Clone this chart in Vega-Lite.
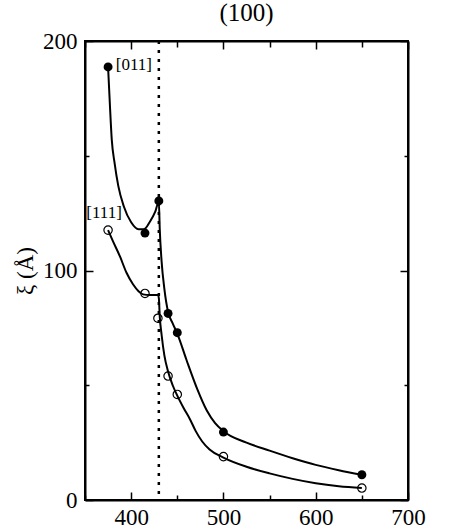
{
  "$schema": "https://vega.github.io/schema/vega-lite/v6.json",
  "width": 323,
  "height": 459,
  "autosize": {"type": "none"},
  "padding": {"left": 85, "top": 41, "right": 66, "bottom": 31},
  "background": "white",
  "config": {
    "view": {"stroke": "black", "strokeWidth": 2},
    "axis": {
      "domainColor": "black",
      "domainWidth": 2,
      "tickColor": "black",
      "tickWidth": 1.5,
      "labelFont": "Liberation Serif",
      "labelFontSize": 23,
      "labelColor": "black",
      "titleFont": "Liberation Serif",
      "titleFontSize": 23,
      "titleFontWeight": "normal",
      "titleColor": "black",
      "grid": false
    }
  },
  "title": {
    "text": "(100)",
    "font": "Liberation Serif",
    "fontSize": 25,
    "fontWeight": "normal",
    "color": "black",
    "offset": 4
  },
  "datasets": {
    "filledPts": [
      {"T": 375, "xi": 188.7},
      {"T": 415, "xi": 116.3},
      {"T": 430, "xi": 130.3},
      {"T": 440, "xi": 81.3},
      {"T": 450, "xi": 72.9},
      {"T": 500, "xi": 29.6},
      {"T": 650, "xi": 11.0}
    ],
    "openPts": [
      {"T": 375, "xi": 117.6},
      {"T": 415, "xi": 90.0},
      {"T": 429, "xi": 79.2},
      {"T": 440, "xi": 54.0},
      {"T": 450, "xi": 46.0},
      {"T": 500, "xi": 18.9},
      {"T": 650, "xi": 5.2}
    ],
    "filledFit": [
      {"T": 375, "xi": 188.7},
      {"T": 377, "xi": 172},
      {"T": 379, "xi": 157},
      {"T": 382, "xi": 147},
      {"T": 386, "xi": 137},
      {"T": 392, "xi": 128},
      {"T": 400, "xi": 121},
      {"T": 408, "xi": 118},
      {"T": 414, "xi": 118},
      {"T": 420, "xi": 121},
      {"T": 426, "xi": 125.5},
      {"T": 430, "xi": 130},
      {"T": 431, "xi": 118},
      {"T": 433, "xi": 104},
      {"T": 436, "xi": 92},
      {"T": 440, "xi": 82},
      {"T": 445, "xi": 77},
      {"T": 450, "xi": 72.5},
      {"T": 460, "xi": 61},
      {"T": 471, "xi": 49},
      {"T": 482, "xi": 39},
      {"T": 491, "xi": 33.5},
      {"T": 500, "xi": 30},
      {"T": 525, "xi": 25},
      {"T": 550, "xi": 21.5},
      {"T": 575, "xi": 18.2},
      {"T": 600, "xi": 15.3},
      {"T": 625, "xi": 13},
      {"T": 650, "xi": 11}
    ],
    "openFit": [
      {"T": 375, "xi": 117.6},
      {"T": 380, "xi": 113},
      {"T": 388, "xi": 106},
      {"T": 395, "xi": 99},
      {"T": 402, "xi": 94},
      {"T": 408, "xi": 91},
      {"T": 413, "xi": 89.6},
      {"T": 420, "xi": 89.3},
      {"T": 429, "xi": 89.3},
      {"T": 430, "xi": 88},
      {"T": 431, "xi": 80},
      {"T": 433, "xi": 72},
      {"T": 436, "xi": 63},
      {"T": 440, "xi": 56},
      {"T": 445, "xi": 50},
      {"T": 450, "xi": 45.5},
      {"T": 457, "xi": 40},
      {"T": 464, "xi": 35},
      {"T": 470, "xi": 30},
      {"T": 477, "xi": 25.5},
      {"T": 485, "xi": 22},
      {"T": 500, "xi": 18.5},
      {"T": 525, "xi": 14.5},
      {"T": 550, "xi": 11.6},
      {"T": 575, "xi": 9.2},
      {"T": 600, "xi": 7.3},
      {"T": 625, "xi": 6},
      {"T": 650, "xi": 5.2}
    ],
    "vline": [{"T": 430}],
    "labels": [
      {"T": 403, "xi": 189.5, "text": "[011]"},
      {"T": 370.6, "xi": 125, "text": "[111]"}
    ]
  },
  "layer": [
    {
      "data": {"name": "vline"},
      "mark": {"type": "rule", "stroke": "black", "strokeWidth": 2.5, "strokeDash": [3, 6]},
      "encoding": {
        "x": {"field": "T", "type": "quantitative", "scale": {"domain": [350, 700], "nice": false, "zero": false}, "axis": null}
      }
    },
    {
      "data": {"name": "filledFit"},
      "mark": {"type": "line", "interpolate": "monotone", "stroke": "black", "strokeWidth": 2},
      "encoding": {
        "x": {
          "field": "T", "type": "quantitative",
          "scale": {"domain": [350, 700], "nice": false, "zero": false},
          "axis": {
            "orient": "bottom",
            "title": null,
            "values": [350, 400, 450, 500, 550, 600, 650, 700],
            "labelExpr": "datum.value % 100 === 0 ? datum.label : ''",
            "tickSize": {"condition": {"test": "datum.value % 100 === 0", "value": -8}, "value": -5},
            "labelPadding": 14,
            "labelFlush": false,
            "labelOverlap": false
          }
        },
        "y": {
          "field": "xi", "type": "quantitative",
          "scale": {"domain": [0, 200], "nice": false},
          "axis": {
            "orient": "left",
            "title": "ξ (Å)",
            "titlePadding": 5,
            "values": [0, 50, 100, 150, 200],
            "labelExpr": "datum.value % 100 === 0 ? datum.label : ''",
            "tickSize": {"condition": {"test": "datum.value % 100 === 0", "value": -8}, "value": -4},
            "labelPadding": 16,
            "labelFlush": false,
            "labelOverlap": false
          }
        }
      }
    },
    {
      "data": {"name": "openFit"},
      "mark": {"type": "line", "interpolate": "monotone", "stroke": "black", "strokeWidth": 2},
      "encoding": {
        "x": {"field": "T", "type": "quantitative", "scale": {"domain": [350, 700], "nice": false, "zero": false}, "axis": null},
        "y": {"field": "xi", "type": "quantitative", "scale": {"domain": [0, 200], "nice": false}, "axis": null}
      }
    },
    {
      "data": {"name": "filledPts"},
      "mark": {"type": "point", "shape": "circle", "filled": true, "fill": "black", "size": 80, "opacity": 1},
      "encoding": {
        "x": {
          "field": "T", "type": "quantitative",
          "scale": {"domain": [350, 700], "nice": false, "zero": false},
          "axis": {
            "orient": "top",
            "title": null,
            "labels": false,
            "values": [350, 400, 450, 500, 550, 600, 650, 700],
            "tickSize": {"condition": {"test": "datum.value % 100 === 0", "value": -8}, "value": -6}
          }
        },
        "y": {
          "field": "xi", "type": "quantitative",
          "scale": {"domain": [0, 200], "nice": false},
          "axis": {
            "orient": "right",
            "title": null,
            "labels": false,
            "values": [0, 50, 100, 150, 200],
            "tickSize": {"condition": {"test": "datum.value % 100 === 0", "value": -8}, "value": -4}
          }
        }
      }
    },
    {
      "data": {"name": "openPts"},
      "mark": {"type": "point", "shape": "circle", "filled": false, "stroke": "black", "strokeWidth": 1.2, "size": 70, "opacity": 1},
      "encoding": {
        "x": {"field": "T", "type": "quantitative", "scale": {"domain": [350, 700], "nice": false, "zero": false}, "axis": null},
        "y": {"field": "xi", "type": "quantitative", "scale": {"domain": [0, 200], "nice": false}, "axis": null}
      }
    },
    {
      "data": {"name": "labels"},
      "mark": {"type": "text", "font": "Liberation Serif", "fontSize": 17, "fill": "black", "opacity": 1, "align": "center", "baseline": "middle"},
      "encoding": {
        "x": {"field": "T", "type": "quantitative", "scale": {"domain": [350, 700], "nice": false, "zero": false}, "axis": null},
        "y": {"field": "xi", "type": "quantitative", "scale": {"domain": [0, 200], "nice": false}, "axis": null},
        "text": {"field": "text"}
      }
    }
  ],
  "resolve": {"axis": {"x": "independent", "y": "independent"}}
}
